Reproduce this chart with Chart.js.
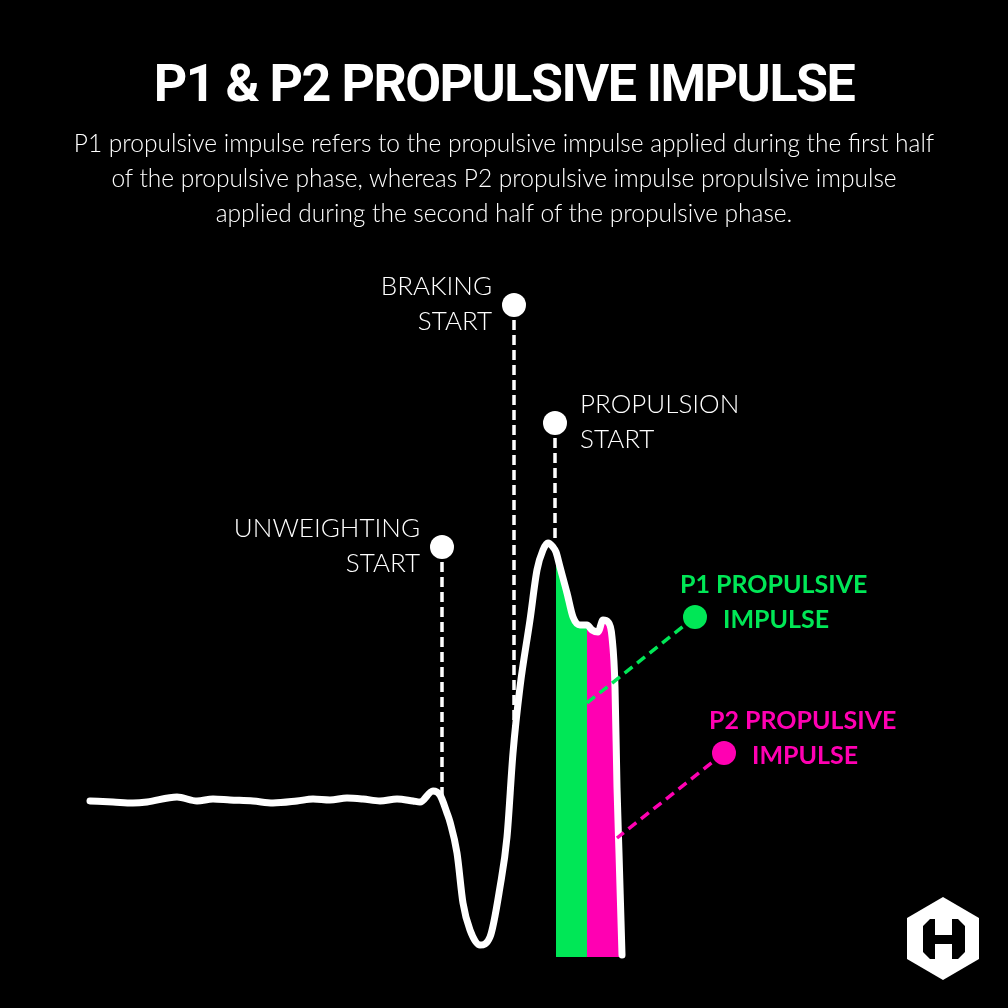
<!DOCTYPE html>
<html>
<head>
<meta charset="utf-8">
<script src="https://cdn.jsdelivr.net/npm/chart.js@4/dist/chart.umd.min.js"></script>
<style>
  html, body { margin: 0; padding: 0; background: #000; }
  #wrap { position: relative; width: 1008px; height: 1008px; background: #000; overflow: hidden; }
  #chart-box { position: absolute; left: 0; top: 0; width: 1008px; height: 1008px; }
  h1 {
    position: absolute; left: 0; width: 1008px; top: 53px; margin: 0;
    text-align: center; color: #fff;
    font: 700 52px Roboto, "Liberation Sans", sans-serif; letter-spacing: -1.5px;
  }
  p.sub {
    position: absolute; left: 0; width: 1008px; top: 125px; margin: 0;
    text-align: center; color: #fff;
    font: 300 24.5px Lato, "Open Sans", sans-serif; line-height: 35px;
  }
  #logo { position: absolute; left: 0; top: 0; }
</style>
</head>
<body>
<div id="wrap">
  <div id="chart-box"><canvas id="force-chart"></canvas></div>
  <h1>P1 &amp; P2 PROPULSIVE IMPULSE</h1>
  <p class="sub">P1 propulsive impulse refers to the propulsive impulse applied during the first half<br>of the propulsive phase, whereas P2 propulsive impulse propulsive impulse<br>applied during the second half of the propulsive phase.</p>
  <svg id="logo" width="1008" height="1008" viewBox="0 0 1008 1008">
    <polygon points="943,897 979,918 979,959 943,980 907,959 907,918" fill="#fff"/>
    <polygon points="930,919 935,919 935,935 952,935 952,919 958,919 965,926 965,952 958,959 952,959 952,944 935,944 935,959 930,959 923,952 923,926" fill="#000"/>
  </svg>
</div>

<script>
// Force-time trace (time and force in chart units)
const time  = [90, 113, 133, 147, 177, 197, 213, 230, 253, 273, 297, 313, 330, 347, 363, 380, 397, 413, 420,
               433, 440, 447, 450, 457, 463, 470, 480, 490, 500, 507, 513, 520, 530, 537, 543, 548, 553, 556,
               560, 567, 573, 580, 587, 592, 598, 603, 608, 612, 615, 617, 619, 622];
const force = [207, 206, 205, 206, 211, 207, 209, 208, 207, 205, 207, 209, 208, 210, 209, 207, 209, 207, 206,
               217, 213, 195, 186, 155, 105, 78, 63, 71, 121, 171, 255, 321, 388, 438, 458, 465, 461, 456,
               441, 415, 391, 383, 383, 378, 376, 388, 386, 371, 321, 221, 155, 53];

// Phase boundaries (time) and floor of the shaded impulse areas (force)
const p1Start = 556;
const p1End = 587;
const p2End = 622;
const impulseFloor = 51;

// Event markers: dot on top, dashed drop line down to the trace
const markerNames  = [['UNWEIGHTING', 'START'], ['BRAKING', 'START'], ['PROPULSION', 'START']];
const markerTime   = [442, 514, 555];
const markerTop    = [461, 703, 585];
const markerBottom = [213, 258, 465];

// Impulse callouts: dot and the point on the shaded area it points to
const calloutNames   = [['P1 PROPULSIVE', 'IMPULSE'], ['P2 PROPULSIVE', 'IMPULSE']];
const calloutDotTime = [695, 724];
const calloutDotForce = [391, 255];
const calloutEndTime = [587, 617];
const calloutEndForce = [305, 170];

const GREEN = '#00E756';
const PINK = '#FF00B2';

const trace = time.map((t, i) => ({ x: t, y: force[i] }));
const p1Points = trace.filter(p => p.x >= p1Start && p.x <= p1End);
const p2Points = trace.filter(p => p.x >= p1End && p.x <= p2End);

const datasets = [];

// dots on top of everything
datasets.push({
    type: 'scatter',
    data: markerTime.map((t, i) => ({ x: t, y: markerTop[i] })),
    pointRadius: 12, pointBackgroundColor: '#fff', pointBorderWidth: 0, order: 0
});
datasets.push({
    type: 'scatter',
    data: [{ x: calloutDotTime[0], y: calloutDotForce[0] }],
    pointRadius: 12, pointBackgroundColor: GREEN, pointBorderWidth: 0, order: 0
});
datasets.push({
    type: 'scatter',
    data: [{ x: calloutDotTime[1], y: calloutDotForce[1] }],
    pointRadius: 12, pointBackgroundColor: PINK, pointBorderWidth: 0, order: 0
});

// dashed drop lines
markerTime.forEach((t, i) => {
    datasets.push({
        data: [{ x: t, y: markerTop[i] }, { x: t, y: markerBottom[i] }],
        borderColor: '#fff', borderWidth: 3.5, borderDash: [10, 5],
        pointRadius: 0, fill: false, order: 1
    });
});
calloutDotTime.forEach((t, i) => {
    datasets.push({
        data: [{ x: t, y: calloutDotForce[i] }, { x: calloutEndTime[i], y: calloutEndForce[i] }],
        borderColor: i === 0 ? GREEN : PINK, borderWidth: 3.5, borderDash: [10, 6],
        pointRadius: 0, fill: false, order: 1
    });
});

// main force trace
datasets.push({
    data: trace,
    borderColor: '#fff', borderWidth: 7,
    borderJoinStyle: 'round', borderCapStyle: 'round',
    cubicInterpolationMode: 'monotone',
    pointRadius: 0, fill: false, order: 2
});

// shaded impulses
datasets.push({
    data: p1Points, borderWidth: 0, borderColor: 'transparent',
    backgroundColor: GREEN, cubicInterpolationMode: 'monotone',
    pointRadius: 0, fill: { value: impulseFloor }, order: 3
});
datasets.push({
    data: p2Points, borderWidth: 0, borderColor: 'transparent',
    backgroundColor: PINK, cubicInterpolationMode: 'monotone',
    pointRadius: 0, fill: { value: impulseFloor }, order: 3
});

// text next to the dots
const labelPlugin = {
    id: 'labels',
    afterDatasetsDraw(chart) {
        const { ctx, scales: { x, y } } = chart;
        ctx.save();
        ctx.textBaseline = 'middle';

        ctx.fillStyle = '#fff';
        ctx.font = '300 26px Lato, "Open Sans", sans-serif';
        markerNames.forEach((lines, i) => {
            const px = x.getPixelForValue(markerTime[i]);
            const py = y.getPixelForValue(markerTop[i]);
            const right = i < 2;
            ctx.textAlign = right ? 'right' : 'left';
            const tx = right ? px - 22 : px + 25;
            ctx.fillText(lines[0], tx, py - 18);
            ctx.fillText(lines[1], tx, py + 17);
        });

        ctx.font = '700 25px Lato, "Open Sans", sans-serif';
        ctx.textAlign = 'left';
        calloutNames.forEach((lines, i) => {
            const px = x.getPixelForValue(calloutDotTime[i]);
            const py = y.getPixelForValue(calloutDotForce[i]);
            ctx.fillStyle = i === 0 ? GREEN : PINK;
            ctx.fillText(lines[0], px - 15, py - 32);
            ctx.fillText(lines[1], px + 28, py + 3);
        });
        ctx.restore();
    }
};

new Chart(document.getElementById('force-chart'), {
    type: 'line',
    data: { datasets },
    options: {
        responsive: true,
        maintainAspectRatio: false,
        animation: false,
        layout: { padding: 0, autoPadding: false },
        plugins: { legend: { display: false }, tooltip: { enabled: false } },
        scales: {
            x: { type: 'linear', min: 0, max: 1008, display: false },
            y: { type: 'linear', min: 0, max: 1008, display: false }
        }
    },
    plugins: [labelPlugin]
});
</script>
</body>
</html>
